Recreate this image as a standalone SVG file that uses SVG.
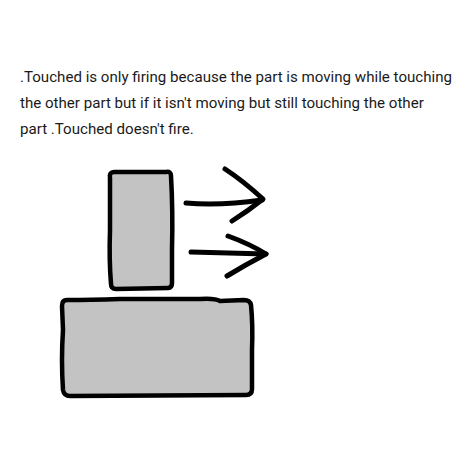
<svg xmlns="http://www.w3.org/2000/svg" width="474" height="474" viewBox="0 0 474 474">
<style>
.t{font-family:Roboto,"Liberation Sans",sans-serif;font-size:15.1px;fill:#1a1a1a}
.box{fill:#c3c3c3;stroke:#000;stroke-width:4.5;stroke-linejoin:round}
.arr{fill:none;stroke:#000;stroke-width:5;stroke-linecap:round;stroke-linejoin:round}
</style>
<rect width="474" height="474" fill="#fff"/>
<g id="caption">
<text class="t" x="20" y="82">.Touched is only firing because the part is moving while touching</text>
<text class="t" x="20" y="108">the other part but if it isn't moving but still touching the other</text>
<text class="t" x="20" y="134">part .Touched doesn't fire.</text>
</g>
<g id="moving-part">
<path class="box" d="M114,172 Q109,172 110,178 L110,230 Q109,260 111,284 Q111,289 116,289 L168,288 Q172,288 172,283 L172,250 Q173,210 171,176 Q171,171 166,172 Z"/>
</g>
<g id="base-part">
<path class="box" d="M67,300 Q62,300 62,306 L63,330 Q61,360 63,390 Q64,396 70,396 L246,395 Q252,395 252,389 L252,350 Q253,325 251,305 Q250,300 244,300 L220,301 Q215,298 200,299 L120,299 Q90,300 67,300 Z"/>
</g>
<g id="connectors">
<path class="arr" d="M186,203 Q220,206 262,200"/>
<path class="arr" d="M225,169 Q242,180 263,199 Q248,211 232,221"/>
<path class="arr" d="M191,252 Q230,253 266,254"/>
<path class="arr" d="M228,236 Q250,244 266,254 Q245,265 227,276"/>
</g>
</svg>
